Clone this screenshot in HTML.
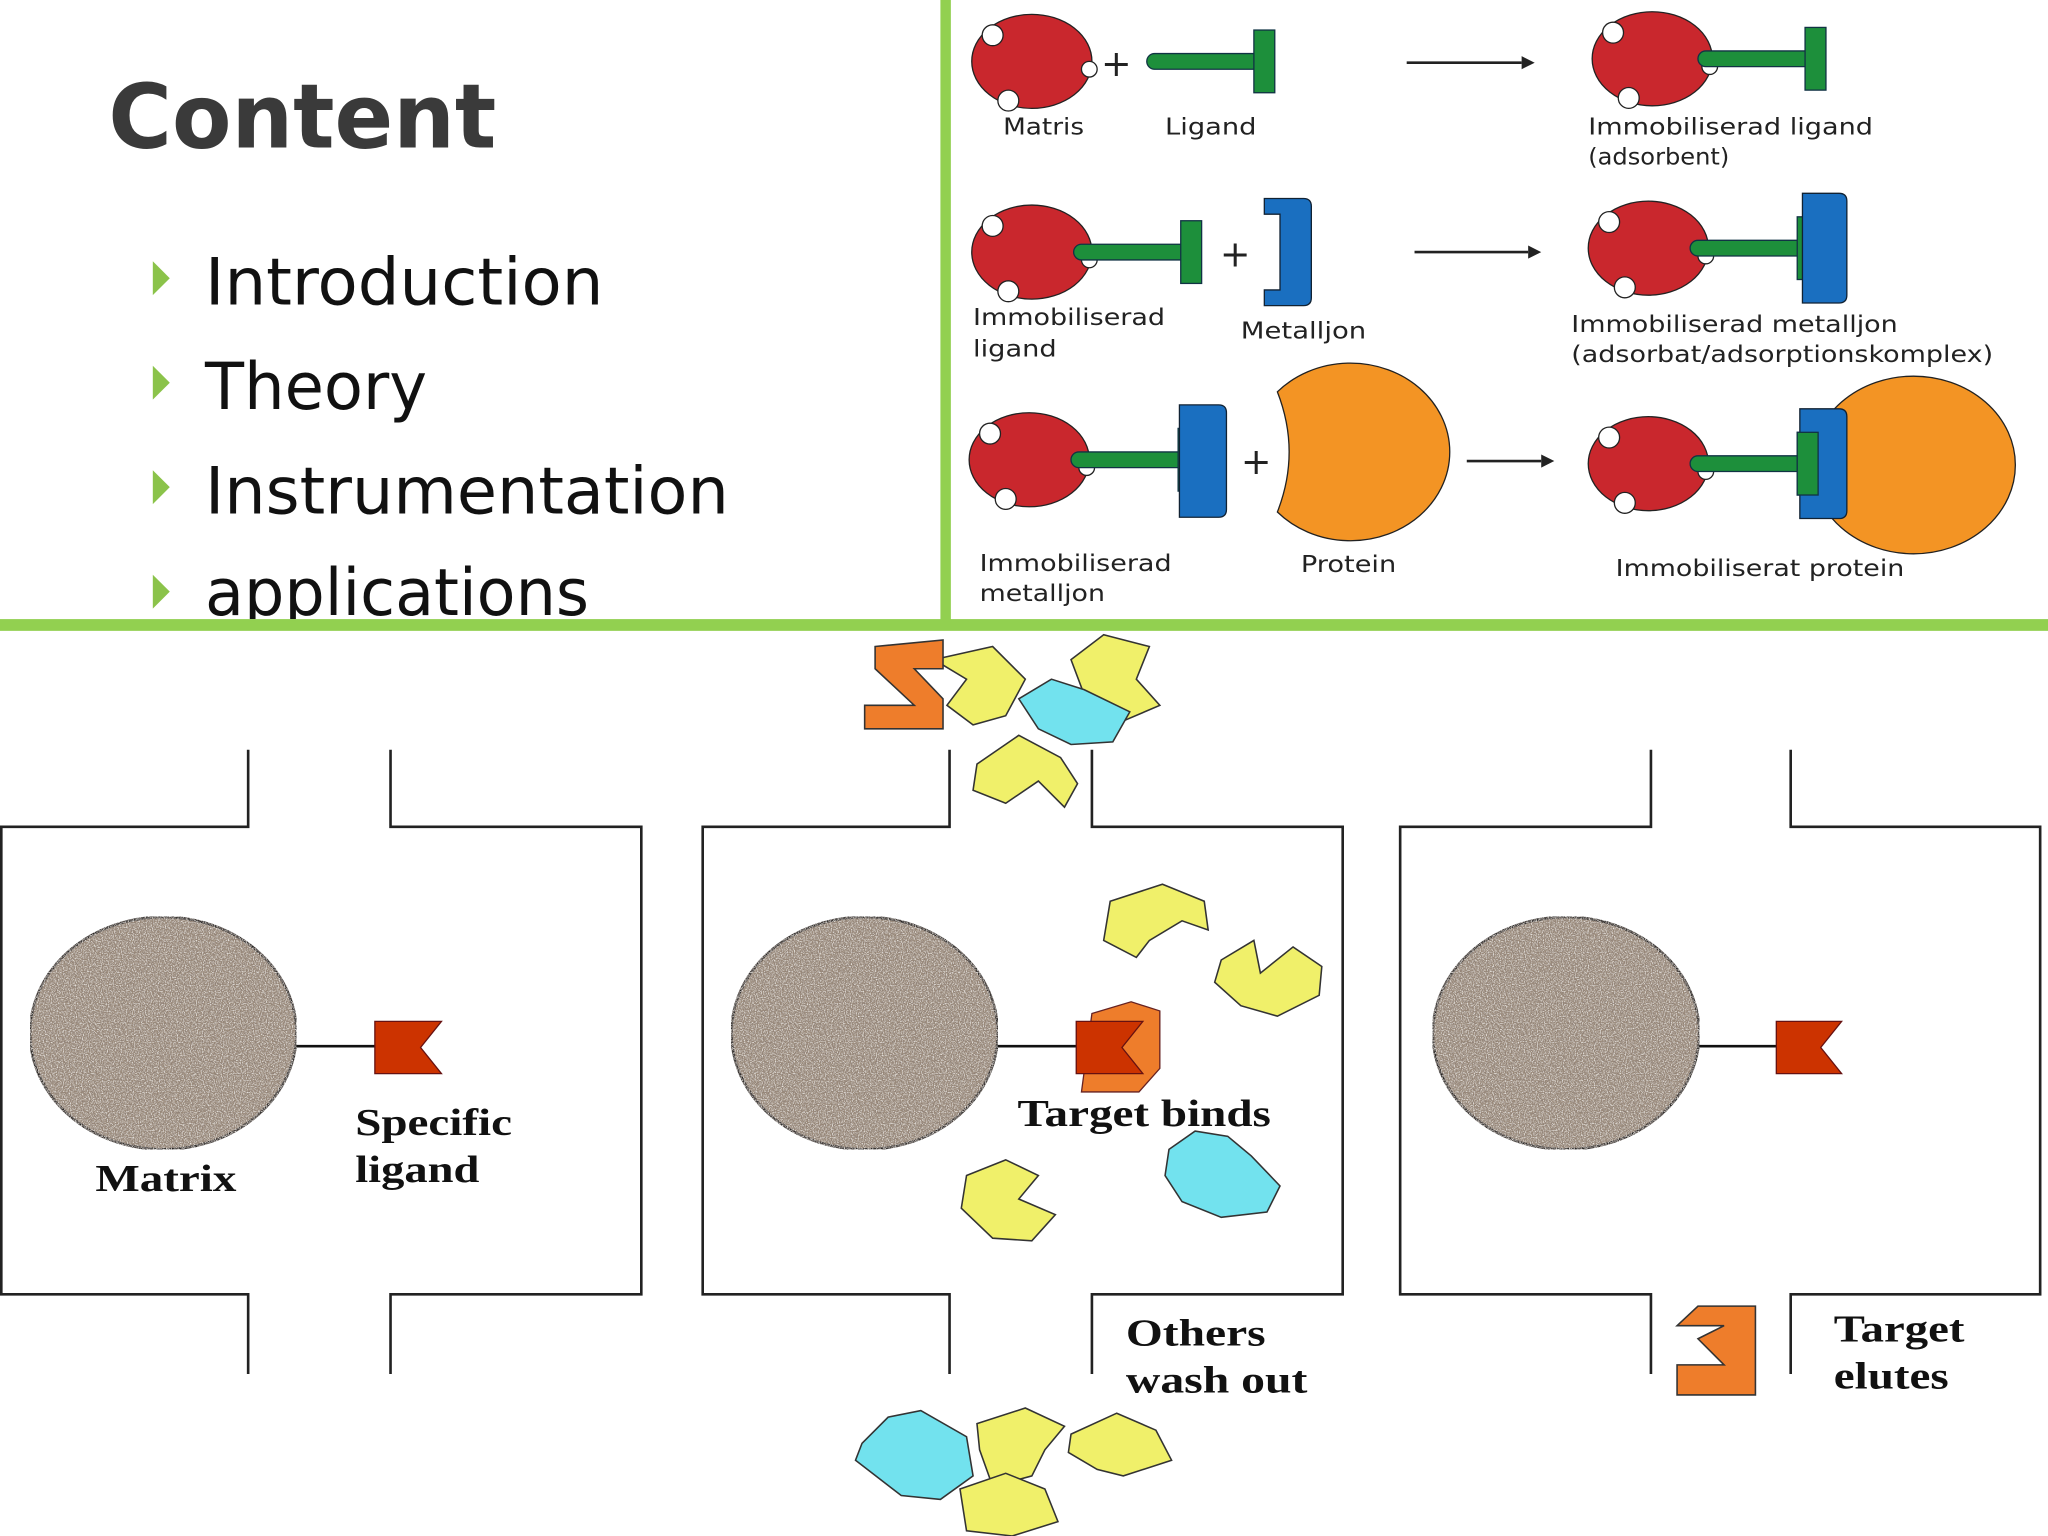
<!DOCTYPE html>
<html><head><meta charset="utf-8"><style>
html,body{margin:0;padding:0;background:#fff;}
svg{display:block;}
</style></head><body>
<svg width="2048" height="1536" viewBox="0 0 1568 1176" xmlns="http://www.w3.org/2000/svg">
<defs>
<filter id="grain" x="0" y="0" width="100%" height="100%">
<feTurbulence type="fractalNoise" baseFrequency="1.2" numOctaves="2" seed="3" result="n"/>
<feColorMatrix in="n" type="matrix" values="0 0 0 0 0.25  0 0 0 0 0.2  0 0 0 0 0.18  0 0 0 3 -1.3" result="d"/>
<feComposite in="d" in2="SourceGraphic" operator="in" result="dd"/>
<feTurbulence type="fractalNoise" baseFrequency="1.1" numOctaves="2" seed="9" result="n2"/>
<feColorMatrix in="n2" type="matrix" values="0 0 0 0 0.85  0 0 0 0 0.82  0 0 0 0 0.78  0 0 0 3 -1.4" result="l"/>
<feComposite in="l" in2="SourceGraphic" operator="in" result="ll"/>
<feMerge><feMergeNode in="SourceGraphic"/><feMergeNode in="dd"/><feMergeNode in="ll"/></feMerge>
</filter>
<g id="red">
<ellipse rx="46" ry="36" fill="#c9272d" stroke="#222" stroke-width="1"/>
<circle cx="-30" cy="-20" r="8" fill="#fff" stroke="#222"/>
<circle cx="-18" cy="30" r="8" fill="#fff" stroke="#222"/>
<circle cx="44" cy="6" r="6" fill="#fff" stroke="#222"/>
</g>
<g id="lig">
<rect x="0" y="-6" width="92" height="12" rx="6" fill="#1d8f3b" stroke="#134"/>
<rect x="82" y="-24" width="16" height="48" fill="#1d8f3b" stroke="#134"/>
</g>
<g id="sphere">
<ellipse rx="102" ry="89" fill="#9c8c7c" stroke="#222" stroke-width="2" filter="url(#grain)"/>
</g>
</defs>

<text x="83" y="113" font-family="DejaVu Sans, sans-serif" font-weight="bold" font-size="68" fill="#3a3a3a" textLength="297" lengthAdjust="spacingAndGlyphs">Content</text>
<g font-family="DejaVu Sans, sans-serif" font-size="50" fill="#111">
<polygon points="117,200 130,213 117,226" fill="#8bc34a"/>
<text x="157" y="233" textLength="305" lengthAdjust="spacingAndGlyphs">Introduction</text>
<polygon points="117,280 130,293 117,306" fill="#8bc34a"/>
<text x="157" y="313" textLength="170" lengthAdjust="spacingAndGlyphs">Theory</text>
<polygon points="117,360 130,373 117,386" fill="#8bc34a"/>
<text x="157" y="393" textLength="401" lengthAdjust="spacingAndGlyphs">Instrumentation</text>
<polygon points="117,440 130,453 117,466" fill="#8bc34a"/>
<text x="157" y="471" textLength="294" lengthAdjust="spacingAndGlyphs">applications</text>
</g>
<rect x="0" y="474" width="1568" height="702" fill="#fff"/>

<rect x="720" y="0" width="8" height="482" fill="#92d050"/>
<rect x="0" y="474" width="1568" height="9" fill="#92d050"/>

<g font-family="DejaVu Sans, sans-serif" font-size="18" fill="#222">
<use href="#red" x="790" y="47"/>
<text x="843" y="58" font-size="28">+</text>
<g transform="translate(878,47)"><use href="#lig"/></g>
<text x="768" y="103" textLength="62" lengthAdjust="spacingAndGlyphs">Matris</text><text x="892" y="103" textLength="70" lengthAdjust="spacingAndGlyphs">Ligand</text>
<line x1="1077" y1="48" x2="1165" y2="48" stroke="#222" stroke-width="2"/><polygon points="1165,43 1175,48 1165,53" fill="#222"/>
<use href="#red" x="1265" y="45"/>
<g transform="translate(1300,45)"><use href="#lig"/></g>
<text x="1216" y="103" textLength="218" lengthAdjust="spacingAndGlyphs">Immobiliserad ligand</text><text x="1216" y="126" textLength="108" lengthAdjust="spacingAndGlyphs">(adsorbent)</text>

<use href="#red" x="790" y="193"/>
<g transform="translate(822,193)"><use href="#lig"/></g>
<text x="934" y="204" font-size="28">+</text>
<path d="M968,152 h30 q6,0 6,6 v70 q0,6 -6,6 h-30 v-12 h12 v-58 h-12z" fill="#1a6fc0" stroke="#123"/>
<text x="745" y="249" textLength="147" lengthAdjust="spacingAndGlyphs">Immobiliserad</text><text x="745" y="273" textLength="64" lengthAdjust="spacingAndGlyphs">ligand</text>
<text x="950" y="259" textLength="96" lengthAdjust="spacingAndGlyphs">Metalljon</text>
<line x1="1083" y1="193" x2="1170" y2="193" stroke="#222" stroke-width="2"/><polygon points="1170,188 1180,193 1170,198" fill="#222"/>
<use href="#red" x="1262" y="190"/>
<g transform="translate(1294,190)"><use href="#lig"/></g>
<path d="M1380,148 h28 q6,0 6,6 v72 q0,6 -6,6 h-28z" fill="#1a6fc0" stroke="#123"/>
<text x="1203" y="254" textLength="250" lengthAdjust="spacingAndGlyphs">Immobiliserad metalljon</text><text x="1203" y="277" textLength="323" lengthAdjust="spacingAndGlyphs">(adsorbat/adsorptionskomplex)</text>

<use href="#red" x="788" y="352"/>
<g transform="translate(820,352)"><use href="#lig"/></g>
<path d="M903,310 h30 q6,0 6,6 v74 q0,6 -6,6 h-30z" fill="#1a6fc0" stroke="#123"/>
<path d="M978,300 A76,68 0 1 1 978,392 q18,-46 0,-92z" fill="#f39424" stroke="#222"/>
<text x="950" y="363" font-size="28">+</text>
<text x="750" y="437" textLength="147" lengthAdjust="spacingAndGlyphs">Immobiliserad</text><text x="750" y="460" textLength="96" lengthAdjust="spacingAndGlyphs">metalljon</text>
<text x="996" y="438" textLength="73" lengthAdjust="spacingAndGlyphs">Protein</text>
<line x1="1123" y1="353" x2="1180" y2="353" stroke="#222" stroke-width="2"/><polygon points="1180,348 1190,353 1180,358" fill="#222"/>
<ellipse cx="1465" cy="356" rx="78" ry="68" fill="#f39424" stroke="#222"/>
<use href="#red" x="1262" y="355"/>
<g transform="translate(1294,355)"><use href="#lig"/></g>
<path d="M1378,313 h30 q6,0 6,6 v72 q0,6 -6,6 h-30z" fill="#1a6fc0" stroke="#123"/>
<rect x="1376" y="331" width="16" height="48" fill="#1d8f3b" stroke="#134"/>
<text x="1237" y="441" textLength="221" lengthAdjust="spacingAndGlyphs">Immobiliserat protein</text>
</g>

<g fill="none" stroke="#222" stroke-width="2">
<path d="M190,574 V633 H1 V991 H190 V1052 M299,574 V633 H491 V991 H299 V1052"/>
<path d="M727,574 V633 H538 V991 H727 V1052 M836,574 V633 H1028 V991 H836 V1052"/>
<path d="M1264,574 V633 H1072 V991 H1264 V1052 M1371,574 V633 H1562 V991 H1371 V1052"/>
</g>

<use href="#sphere" x="125" y="791"/>
<line x1="227" y1="801" x2="287" y2="801" stroke="#111" stroke-width="2"/>
<polygon points="287,782 338,782 322,802 338,822 287,822" fill="#cc3300" stroke="#611"/>
<use href="#sphere" x="662" y="791"/>
<line x1="764" y1="801" x2="824" y2="801" stroke="#111" stroke-width="2"/>
<polygon points="836,776 866,767 888,774 888,818 872,836 828,836" fill="#ee7d2b" stroke="#622"/>
<polygon points="824,782 875,782 859,802 875,822 824,822" fill="#cc3300" stroke="#611"/>
<use href="#sphere" x="1199" y="791"/>
<line x1="1301" y1="801" x2="1360" y2="801" stroke="#111" stroke-width="2"/>
<polygon points="1360,782 1410,782 1394,802 1410,822 1360,822" fill="#cc3300" stroke="#611"/>

<g font-family="Liberation Serif, serif" font-weight="bold" font-size="29" fill="#111" lengthAdjust="spacingAndGlyphs">
<text x="73" y="912" textLength="108" lengthAdjust="spacingAndGlyphs">Matrix</text>
<text x="272" y="869" textLength="120" lengthAdjust="spacingAndGlyphs">Specific</text><text x="272" y="905" textLength="95" lengthAdjust="spacingAndGlyphs">ligand</text>
<text x="779" y="862" textLength="194" lengthAdjust="spacingAndGlyphs">Target binds</text>
<text x="862" y="1030" textLength="107" lengthAdjust="spacingAndGlyphs">Others</text><text x="862" y="1066" textLength="139" lengthAdjust="spacingAndGlyphs">wash out</text>
<text x="1404" y="1027" textLength="100" lengthAdjust="spacingAndGlyphs">Target</text><text x="1404" y="1063" textLength="88" lengthAdjust="spacingAndGlyphs">elutes</text>
</g>

<g stroke="#333" stroke-width="1.2">
<g fill="#f0f06a">
<polygon points="715,505 760,495 785,520 770,548 745,555 725,540 740,520"/>
<polygon points="820,505 845,486 880,495 870,520 888,540 860,552 835,545"/>
<polygon points="748,585 780,563 812,580 825,600 815,618 795,598 770,615 745,605"/>
<polygon points="850,690 890,677 922,690 925,712 905,705 880,720 870,733 845,720"/>
<polygon points="935,735 960,720 965,745 990,725 1012,740 1010,762 978,778 950,770 930,752"/>
<polygon points="740,900 770,888 795,900 780,918 808,930 790,950 760,948 736,925"/>
<polygon points="748,1090 785,1078 815,1092 800,1110 790,1130 760,1138 750,1110"/>
<polygon points="820,1098 855,1082 885,1095 897,1118 860,1130 840,1125 818,1112"/>
<polygon points="735,1140 770,1128 800,1140 810,1165 775,1176 740,1172"/>
</g>
<g fill="#72e2ee">
<polygon points="780,535 805,520 830,528 865,545 852,568 820,570 795,558"/>
<polygon points="895,880 915,866 940,870 958,885 980,908 970,928 935,932 905,920 892,900"/>
<polygon points="660,1105 680,1085 705,1080 740,1100 745,1130 720,1148 690,1145 655,1118"/>
</g>
<g fill="#ee7d2b">
<polygon points="670,495 722,490 722,512 700,512 722,535 722,558 662,558 662,540 700,540 670,512"/>
<polygon points="1300,1000 1344,1000 1344,1068 1284,1068 1284,1045 1320,1045 1300,1025 1320,1015 1284,1015"/>
</g>
</g>
</svg>
</body></html>
